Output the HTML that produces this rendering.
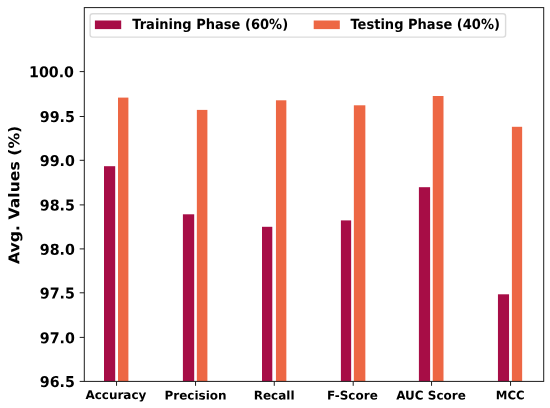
<!DOCTYPE html>
<html><head><meta charset="utf-8"><title>Chart</title>
<style>
html,body{margin:0;padding:0;background:#fff;}
svg{display:block;}
text{font-family:"DejaVu Sans","Liberation Sans",sans-serif;font-weight:bold;fill:#000;}
</style></head><body>
<svg width="550" height="408" viewBox="0 0 550 408">
<rect width="550" height="408" fill="#fff"/>
<rect x="104.0" y="166.2" width="11.20" height="215.2" fill="#A70D46"/>
<rect x="118.0" y="97.6" width="10.40" height="283.8" fill="#ED6744"/>
<rect x="182.9" y="214.3" width="11.30" height="167.1" fill="#A70D46"/>
<rect x="196.85" y="109.9" width="10.55" height="271.5" fill="#ED6744"/>
<rect x="262.0" y="226.8" width="10.30" height="154.6" fill="#A70D46"/>
<rect x="275.95" y="100.3" width="10.40" height="281.1" fill="#ED6744"/>
<rect x="340.9" y="220.4" width="10.25" height="161.0" fill="#A70D46"/>
<rect x="353.85" y="105.3" width="11.50" height="276.1" fill="#ED6744"/>
<rect x="418.9" y="187.2" width="11.20" height="194.2" fill="#A70D46"/>
<rect x="432.75" y="96.0" width="10.75" height="285.4" fill="#ED6744"/>
<rect x="497.95" y="294.3" width="11.10" height="87.1" fill="#A70D46"/>
<rect x="511.9" y="126.8" width="10.25" height="254.6" fill="#ED6744"/>
<rect x="84.3" y="7.6" width="459.4" height="373.8" fill="none" stroke="#1c1c1c" stroke-width="1.0"/>
<line x1="79.7" x2="84.3" y1="71.6" y2="71.6" stroke="#1c1c1c" stroke-width="1.0"/>
<text transform="translate(74.00,77.35) rotate(0.03) scale(0.95,1)" font-size="15.0" text-anchor="end">100.0</text>
<line x1="79.7" x2="84.3" y1="116.5" y2="116.5" stroke="#1c1c1c" stroke-width="1.0"/>
<text transform="translate(74.90,121.90) rotate(0.03) scale(0.95,1)" font-size="15.0" text-anchor="end">99.5</text>
<line x1="79.7" x2="84.3" y1="160.3" y2="160.3" stroke="#1c1c1c" stroke-width="1.0"/>
<text transform="translate(74.90,166.10) rotate(0.03) scale(0.95,1)" font-size="15.0" text-anchor="end">99.0</text>
<line x1="79.7" x2="84.3" y1="204.9" y2="204.9" stroke="#1c1c1c" stroke-width="1.0"/>
<text transform="translate(74.90,210.45) rotate(0.03) scale(0.95,1)" font-size="15.0" text-anchor="end">98.5</text>
<line x1="79.7" x2="84.3" y1="248.9" y2="248.9" stroke="#1c1c1c" stroke-width="1.0"/>
<text transform="translate(74.90,254.85) rotate(0.03) scale(0.95,1)" font-size="15.0" text-anchor="end">98.0</text>
<line x1="79.7" x2="84.3" y1="292.8" y2="292.8" stroke="#1c1c1c" stroke-width="1.0"/>
<text transform="translate(74.90,298.50) rotate(0.03) scale(0.95,1)" font-size="15.0" text-anchor="end">97.5</text>
<line x1="79.7" x2="84.3" y1="337.4" y2="337.4" stroke="#1c1c1c" stroke-width="1.0"/>
<text transform="translate(74.90,343.20) rotate(0.03) scale(0.95,1)" font-size="15.0" text-anchor="end">97.0</text>
<line x1="79.7" x2="84.3" y1="381.4" y2="381.4" stroke="#1c1c1c" stroke-width="1.0"/>
<text transform="translate(74.90,387.00) rotate(0.03) scale(0.95,1)" font-size="15.0" text-anchor="end">96.5</text>
<line x1="116.55" x2="116.55" y1="381.4" y2="385.8" stroke="#1c1c1c" stroke-width="1.0"/>
<text transform="translate(115.90,399.10) rotate(0.03)" font-size="12.0" text-anchor="middle">Accuracy</text>
<line x1="195.55" x2="195.55" y1="381.4" y2="385.8" stroke="#1c1c1c" stroke-width="1.0"/>
<text transform="translate(195.55,399.60) rotate(0.03)" font-size="12.0" text-anchor="middle">Precision</text>
<line x1="274.26" x2="274.26" y1="381.4" y2="385.8" stroke="#1c1c1c" stroke-width="1.0"/>
<text transform="translate(274.15,399.60) rotate(0.03)" font-size="12.0" text-anchor="middle">Recall</text>
<line x1="353.20" x2="353.20" y1="381.4" y2="385.8" stroke="#1c1c1c" stroke-width="1.0"/>
<text transform="translate(352.35,399.50) rotate(0.03)" font-size="12.0" text-anchor="middle">F-Score</text>
<line x1="431.55" x2="431.55" y1="381.4" y2="385.8" stroke="#1c1c1c" stroke-width="1.0"/>
<text transform="translate(431.00,399.50) rotate(0.03)" font-size="12.0" text-anchor="middle">AUC Score</text>
<line x1="510.55" x2="510.55" y1="381.4" y2="385.8" stroke="#1c1c1c" stroke-width="1.0"/>
<text transform="translate(510.20,399.30) rotate(0.03)" font-size="11.7" text-anchor="middle">MCC</text>
<text transform="translate(19.30,194.90) rotate(-89.97) scale(1.06,1)" font-size="14.8" text-anchor="middle">Avg. Values (%)</text>
<rect x="90.1" y="13.7" width="415.5" height="23.4" rx="2.6" fill="#fff" fill-opacity="0.8" stroke="#d2d2d2" stroke-opacity="0.8" stroke-width="1.4"/>
<rect x="94.9" y="20.5" width="26.3" height="8.6" fill="#A70D46"/>
<text transform="translate(132.20,29.10) rotate(0.03)" font-size="14.0" text-anchor="start" textLength="155.9" lengthAdjust="spacingAndGlyphs">Training Phase (60%)</text>
<rect x="313.7" y="20.5" width="26.1" height="8.6" fill="#ED6744"/>
<text transform="translate(350.40,29.10) rotate(0.03)" font-size="14.0" text-anchor="start" textLength="149.5" lengthAdjust="spacingAndGlyphs">Testing Phase (40%)</text>
</svg></body></html>
